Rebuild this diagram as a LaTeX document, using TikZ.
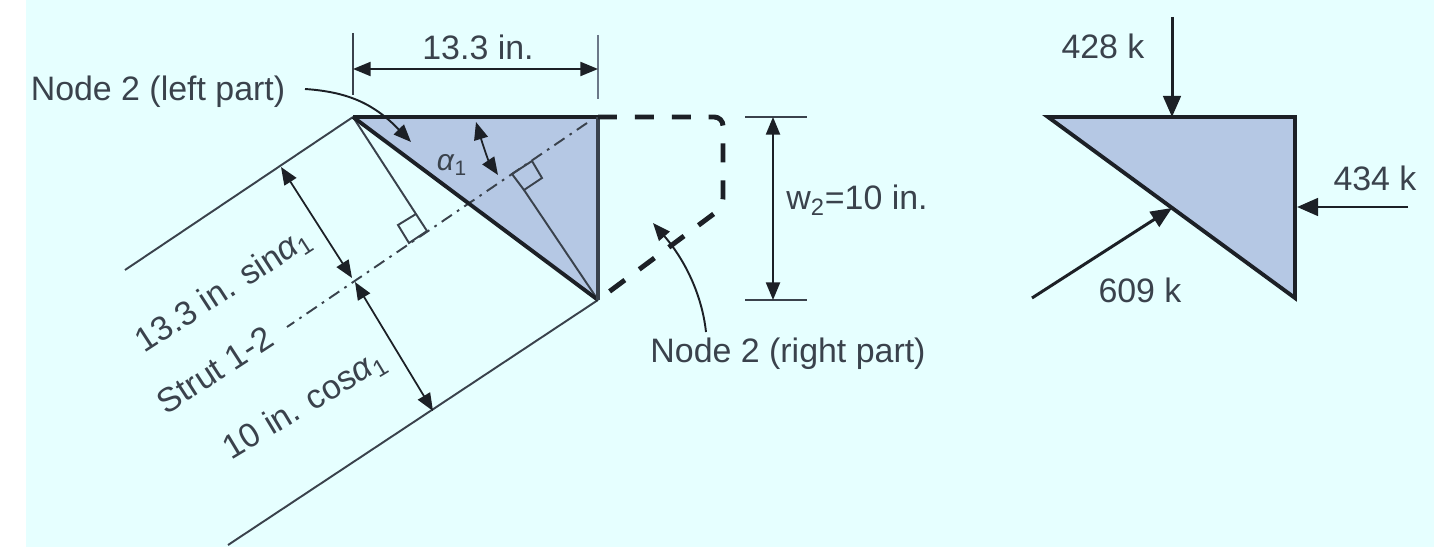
\documentclass[tikz,border=0pt]{standalone}
\usepackage{fontspec}
\setmainfont{Liberation Sans}
\usetikzlibrary{arrows.meta}

\definecolor{paper}{RGB}{230,255,255}
\definecolor{bluefill}{RGB}{181,200,228}
\definecolor{inkgray}{RGB}{58,66,76}
\definecolor{inkdark}{RGB}{28,32,38}

\newcommand{\aone}{\textit{α}\textsubscript{1}}

\tikzset{
  lbl/.style={text=inkgray,font=\fontsize{19.3}{23}\selectfont,inner sep=0pt},
  thinline/.style={draw=inkgray,line width=1.1pt},
  heavyline/.style={draw=inkdark,line width=2.2pt},
  dimarrow/.style={draw=inkdark,line width=1pt,<->},
  leader/.style={draw=inkdark,line width=1.1pt,->},
  forceline/.style={draw=inkdark,line width=1.7pt,-{Stealth[inset=0pt,length=12pt,width=10pt]}},
  strutaxis/.style={draw=inkgray,line width=1.1pt,dash pattern=on 7pt off 3.5pt on 1.5pt off 3.5pt}
}

\begin{document}
\begin{tikzpicture}[x=0.02cm,y=-0.02cm,>={Stealth[inset=0pt,length=10pt,width=8pt]}]
\useasboundingbox (0,0) rectangle (1450,547);

% Background
\fill[paper] (26,0) rectangle (1434,547);

% Corners of the left triangle
\coordinate (a) at (353,117);
\coordinate (b) at (598,117);
\coordinate (c) at (598,300);
\fill[bluefill] (a) -- (b) -- (c) -- cycle;

% Strut 1-2 edges and axis
\coordinate (edgeup) at (125,270);
\coordinate (edgelow) at (228,545);
\coordinate (axisup) at (587,123);
\coordinate (axislow) at (287,327);
\draw[thinline] (a) -- (edgeup);
\draw[thinline] (c) -- (edgelow);
\draw[strutaxis] (axisup) -- (axislow);

% Perpendiculars and right angle marks
\coordinate (foota) at (427,231);
\coordinate (footb) at (524,190);
\draw[thinline] (a) -- (foota);
\draw[thinline] (c) -- (footb);
\draw[thinline] (416,214) -- (398,225) -- (409,243) -- (foota);
\draw[thinline] (512,174) -- (532,161) -- (542,178) -- (footb) -- cycle;

% Triangle edges
\draw[heavyline] (a) -- (b);
\draw[heavyline] (a) -- (c);
\draw[draw=inkgray,line width=2.8pt] (b) -- (c);

% Dashed right part
\coordinate (dashtop) at (723,117);
\coordinate (dashlow) at (723,207);
\draw[draw=inkdark,line width=2.8pt,dash pattern=on 10.8pt off 10.2pt,rounded corners=5pt]
  (b) -- (dashtop) -- (dashlow) -- (c);

% Dimension 13.3 in.
\coordinate (extla) at (353,33);
\coordinate (extlb) at (353,95);
\coordinate (extra) at (598,35);
\coordinate (extrb) at (598,99);
\coordinate (dimla) at (353,69);
\coordinate (dimra) at (598,69);
\draw[thinline] (extla) -- (extlb);
\draw[draw=inkgray!60!bluefill,line width=1.1pt] (extra) -- (extrb);
\draw[dimarrow] (dimla) -- (dimra);
\node[lbl] (dimtop) at (478,47) {13.3 in.};

% Dimension w2
\coordinate (exttl) at (745,117);
\coordinate (exttr) at (807,117);
\coordinate (extbl) at (745,300);
\coordinate (extbr) at (807,300);
\coordinate (dimt) at (773,117);
\coordinate (dimb) at (773,300);
\draw[thinline] (exttl) -- (exttr);
\draw[thinline] (extbl) -- (extbr);
\draw[dimarrow] (dimt) -- (dimb);
\node[lbl] (dimw) at (857,200) {w\textsubscript{2}=10 in.};

% Slanted dimensions
\coordinate (sina) at (281,167);
\coordinate (sinb) at (352,278);
\coordinate (cosa) at (355,282);
\coordinate (cosb) at (433,411);
\draw[dimarrow] (sina) -- (sinb);
\draw[dimarrow] (cosa) -- (cosb);

% Angle arrow
\coordinate (anga) at (476,122);
\coordinate (angb) at (498,175);
\draw[dimarrow] (anga) .. controls (482,142) and (488,160) .. (angb);
\node[lbl] (alpha) at (452,165) {\fontsize{17}{20}\selectfont\aone};

% Leaders
\node[lbl] (leftpart) at (158,92) {Node 2 (left part)};
\node[lbl] (rightpart) at (788,354) {Node 2 (right part)};
\coordinate (lefttail) at (305,89);
\coordinate (lefttip) at (411,142);
\coordinate (righttail) at (706,332);
\coordinate (righttip) at (653,223);
\draw[leader] (lefttail) .. controls (350,92) and (375,105) .. (lefttip);
\draw[leader] (righttail) .. controls (702,295) and (685,260) .. (righttip);

% Slanted labels
\node[lbl,rotate=33] (sinlbl) at (224,291) {13.3 in. sin\aone};
\node[lbl,rotate=33] (strutlbl) at (215,370) {Strut 1-2};
\node[lbl,rotate=31] (coslbl) at (305,405) {10 in. cos\aone};

% Right triangle and its forces
\coordinate (d) at (1048,117);
\coordinate (e) at (1295,117);
\coordinate (f) at (1295,298);
\filldraw[fill=bluefill,draw=inkdark,line width=2.2pt] (d) -- (e) -- (f) -- cycle;

\coordinate (topstart) at (1172,17);
\coordinate (toptip) at (1172,117);
\coordinate (sidestart) at (1408,207);
\coordinate (sidetip) at (1297,207);
\coordinate (diagstart) at (1032,298);
\coordinate (diagtip) at (1172,208);
\draw[forceline] (topstart) -- (toptip);
\draw[forceline] (sidestart) -- (sidetip);
\draw[forceline] (diagstart) -- (diagtip);

\node[lbl] (forcetop) at (1103,46) {428 k};
\node[lbl] (forceside) at (1375,178) {434 k};
\node[lbl] (forcediag) at (1140,290) {609 k};

\end{tikzpicture}
\end{document}
